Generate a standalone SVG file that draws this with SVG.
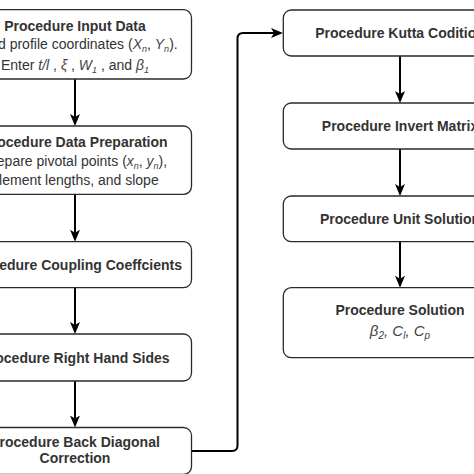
<svg xmlns="http://www.w3.org/2000/svg" width="474" height="474" viewBox="0 0 474 474">
<defs>
<marker id="arr" viewBox="0 0 12 10" refX="3" refY="5" markerWidth="12" markerHeight="10" markerUnits="userSpaceOnUse" orient="auto">
<path d="M0,0 L12,5 L0,10 L3,5 Z" fill="#000"/>
</marker>
<style>
.box{fill:#fff;stroke:#2a2a2a;stroke-width:1.3}
.t{font-family:"Liberation Sans",Arial,sans-serif;font-size:14px;fill:#333;text-anchor:middle}
.b{font-weight:bold}
.i{font-style:italic;fill:#444}
.s{font-size:9px}
.c{fill:none;stroke:#000;stroke-width:2}
</style>
</defs>
<rect width="474" height="474" fill="#fff"/>
<g id="connectors">
<path class="c" d="M75,79 V117" marker-end="url(#arr)"/>
<path class="c" d="M75,194.3 V232.7" marker-end="url(#arr)"/>
<path class="c" d="M75,287.7 V325" marker-end="url(#arr)"/>
<path class="c" d="M75,381 V418.5" marker-end="url(#arr)"/>
<path class="c" d="M400,56 V94" marker-end="url(#arr)"/>
<path class="c" d="M400,149 V187" marker-end="url(#arr)"/>
<path class="c" d="M400,241.7 V278.7" marker-end="url(#arr)"/>
<path class="c" d="M191.5,451 H232 Q237.5,451 237.5,445.5 V38.5 Q237.5,33 243,33 H274" marker-end="url(#arr)"/>
</g>
<g id="n1">
<rect class="box" x="-41.5" y="9.7" width="233" height="69.3" rx="8"/>
<text class="t b" x="75" y="30.5">Procedure Input Data</text>
<text class="t" x="75" y="49">Read profile coordinates (<tspan class="i">X</tspan><tspan class="i s" dy="3">n</tspan><tspan dy="-3">, </tspan><tspan class="i">Y</tspan><tspan class="i s" dy="3">n</tspan><tspan dy="-3">).</tspan></text>
<text class="t" x="75" y="70">Enter <tspan class="i">t/l</tspan> , <tspan class="i">ξ</tspan> , <tspan class="i">W</tspan><tspan class="i s" dy="3">1</tspan><tspan dy="-3"> , and </tspan><tspan class="i">β</tspan><tspan class="i s" dy="3">1</tspan></text>
</g>
<g id="n2">
<rect class="box" x="-41.5" y="126" width="233" height="68.3" rx="8"/>
<text class="t b" x="75" y="147">Procedure Data Preparation</text>
<text class="t" x="75" y="165.5">Prepare pivotal points (<tspan class="i">x</tspan><tspan class="i s" dy="3">n</tspan><tspan dy="-3">, </tspan><tspan class="i">y</tspan><tspan class="i s" dy="3">n</tspan><tspan dy="-3">),</tspan></text>
<text class="t" x="75" y="184.5">element lengths, and slope</text>
</g>
<g id="n3">
<rect class="box" x="-41.5" y="241.7" width="233" height="46" rx="8"/>
<text class="t b" x="75" y="270">Procedure Coupling Coeffcients</text>
</g>
<g id="n4">
<rect class="box" x="-41.5" y="334" width="233" height="47" rx="8"/>
<text class="t b" x="75" y="362.5">Procedure Right Hand Sides</text>
</g>
<g id="n5">
<rect class="box" x="-41.5" y="427.5" width="233" height="47" rx="8"/>
<text class="t b" x="75" y="446.5">Procedure Back Diagonal</text>
<text class="t b" x="75" y="463">Correction</text>
</g>
<g id="n6">
<rect class="box" x="283.3" y="10" width="233" height="46" rx="8"/>
<text class="t b" x="400" y="38">Procedure Kutta Codition</text>
</g>
<g id="n7">
<rect class="box" x="283.3" y="103" width="233" height="46" rx="8"/>
<text class="t b" x="400" y="131">Procedure Invert Matrix</text>
</g>
<g id="n8">
<rect class="box" x="283.3" y="196" width="233" height="45.7" rx="8"/>
<text class="t b" x="400" y="224">Procedure Unit Solution</text>
</g>
<g id="n9">
<rect class="box" x="283.3" y="287.7" width="233" height="70" rx="8"/>
<text class="t b" x="400" y="315">Procedure Solution</text>
<text class="t i" x="400" y="336" style="font-size:15px">β<tspan class="s" dy="3" style="font-size:10px">2</tspan><tspan dy="-3">, C</tspan><tspan dy="3" style="font-size:10px">l</tspan><tspan dy="-3">, C</tspan><tspan dy="3" style="font-size:10px">p</tspan></text>
</g>
</svg>
